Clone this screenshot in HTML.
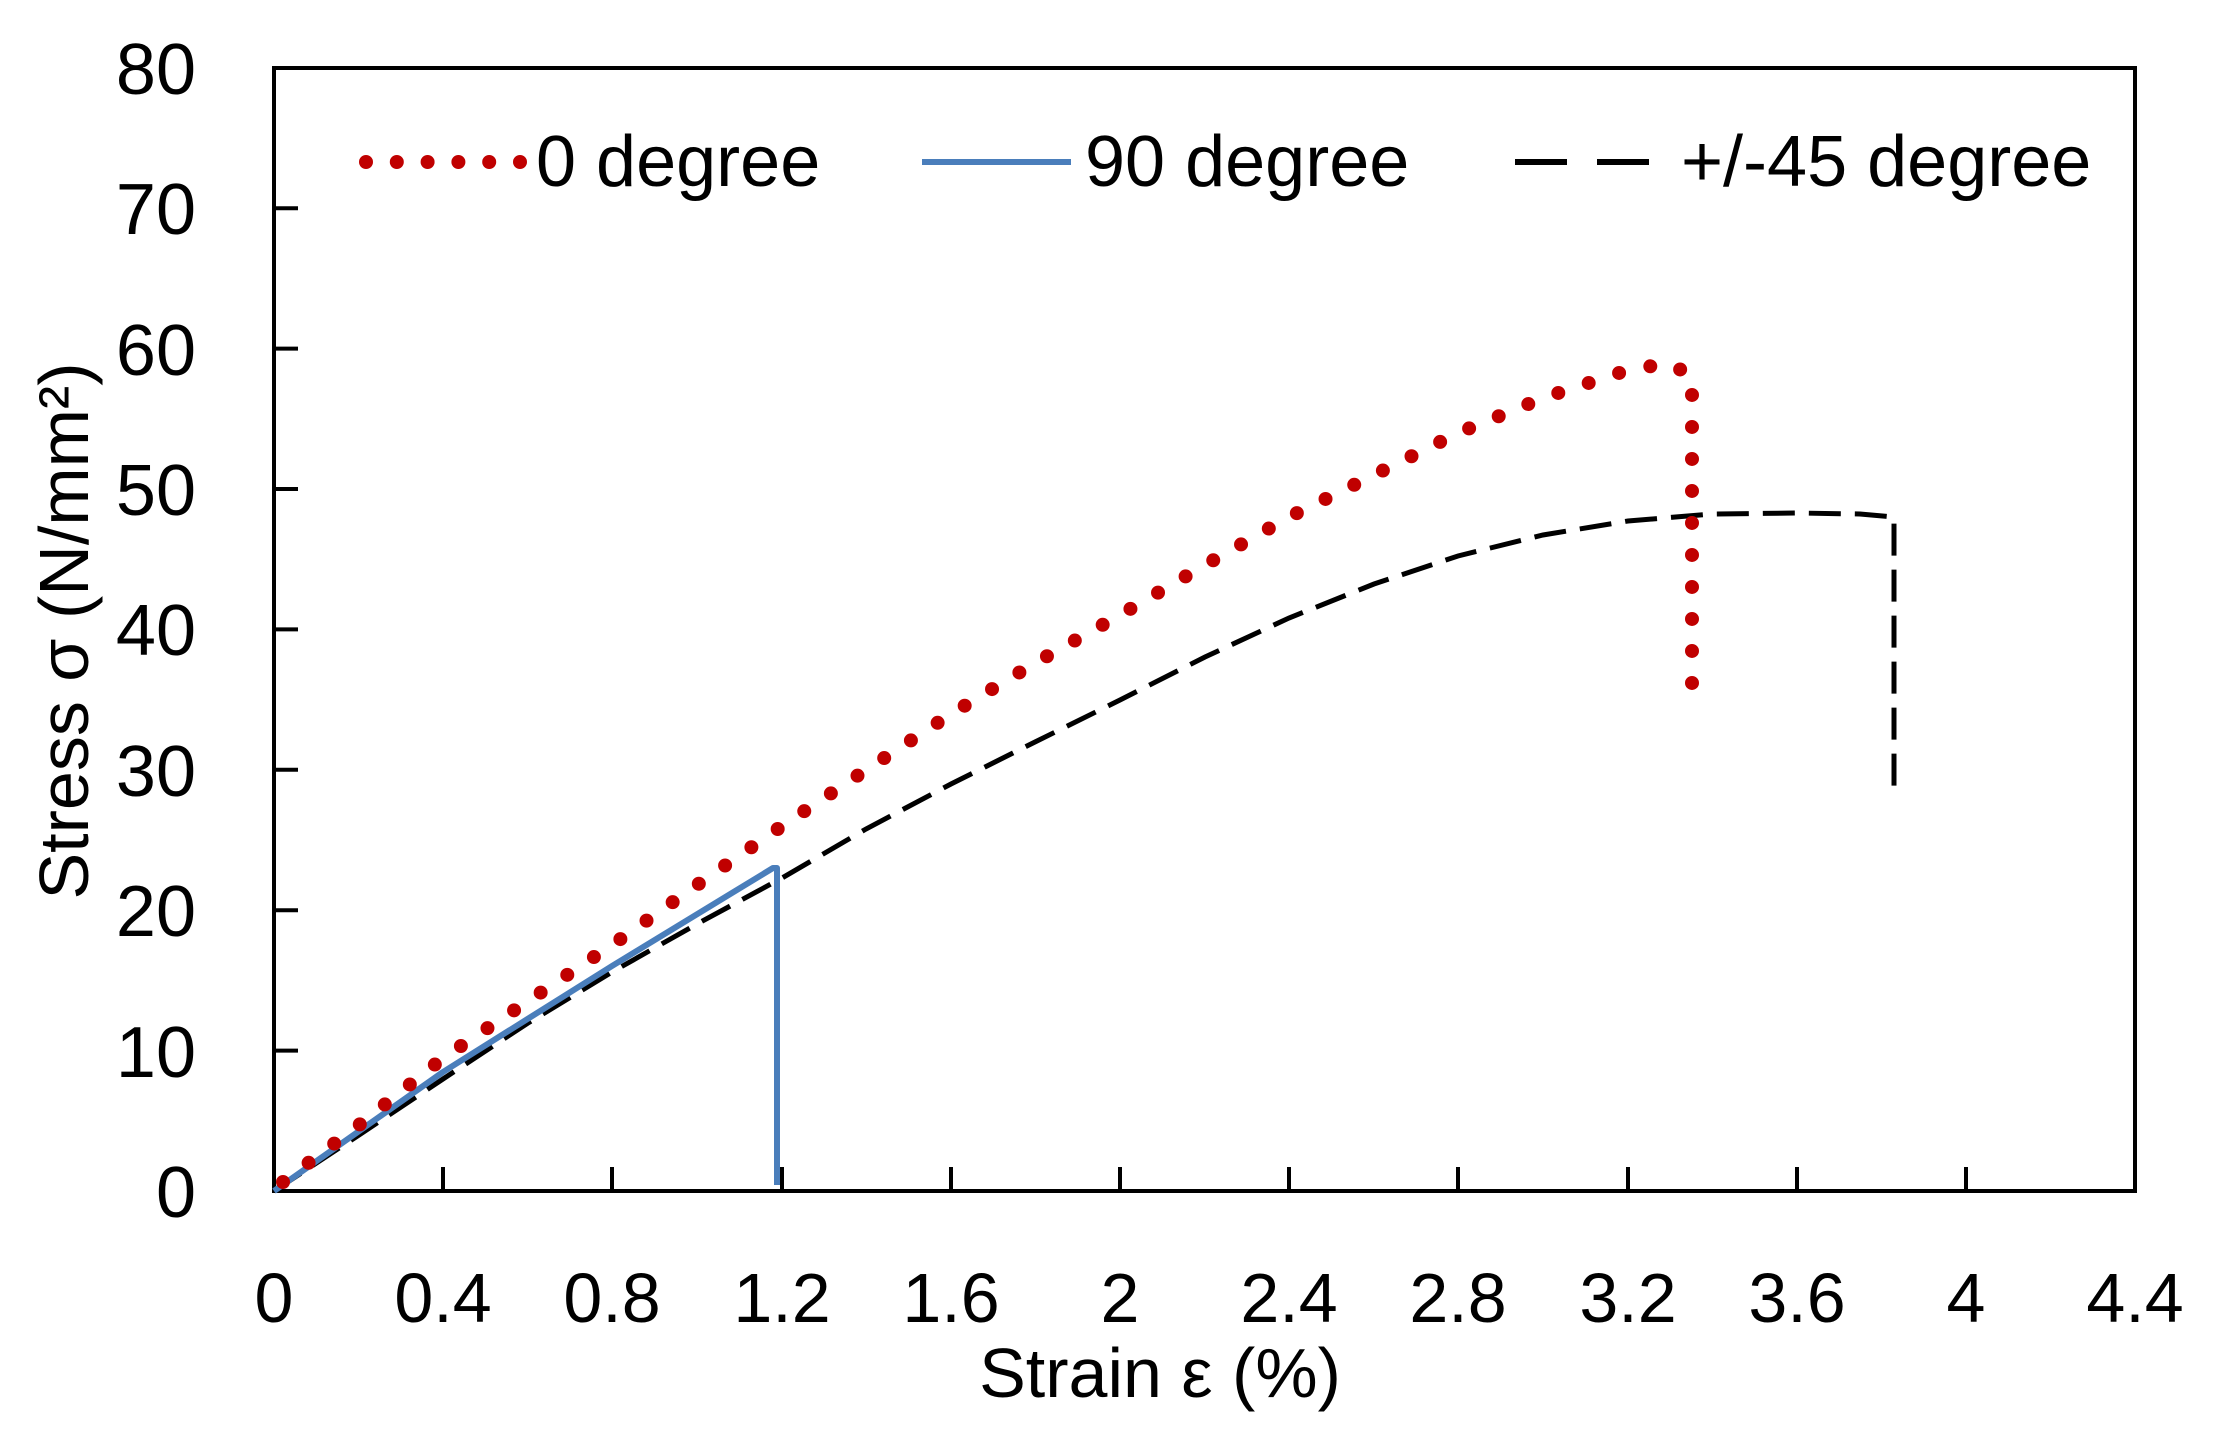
<!DOCTYPE html>
<html><head><meta charset="utf-8"><style>
html,body{margin:0;padding:0;background:#fff;}
svg{display:block}
text{font-family:"Liberation Sans",sans-serif;fill:#000}
</style></head><body>
<svg width="2213" height="1432" viewBox="0 0 2213 1432" xmlns="http://www.w3.org/2000/svg">
<rect width="2213" height="1432" fill="#fff"/>
<rect x="274" y="68" width="1861" height="1123" fill="none" stroke="#000" stroke-width="4"/>
<g stroke="#000" stroke-width="4">
<path d="M274 1050.6h24M274 910.2h24M274 769.8h24M274 629.4h24M274 489h24M274 348.6h24M274 208.2h24"/>
<path d="M443 1191v-24M612 1191v-24M782 1191v-24M951 1191v-24M1120 1191v-24M1289 1191v-24M1458 1191v-24M1628 1191v-24M1797 1191v-24M1966 1191v-24"/>
</g>
<g font-size="72" text-anchor="end">
<text x="196" y="1217">0</text>
<text x="196" y="1077">10</text>
<text x="196" y="936">20</text>
<text x="196" y="796">30</text>
<text x="196" y="655">40</text>
<text x="196" y="515">50</text>
<text x="196" y="375">60</text>
<text x="196" y="234">70</text>
<text x="196" y="94">80</text>
</g>
<g font-size="70" text-anchor="middle">
<text x="274" y="1322">0</text>
<text x="443" y="1322">0.4</text>
<text x="612" y="1322">0.8</text>
<text x="782" y="1322">1.2</text>
<text x="951" y="1322">1.6</text>
<text x="1120" y="1322">2</text>
<text x="1289" y="1322">2.4</text>
<text x="1458" y="1322">2.8</text>
<text x="1628" y="1322">3.2</text>
<text x="1797" y="1322">3.6</text>
<text x="1966" y="1322">4</text>
<text x="2135" y="1322">4.4</text>
</g>
<text x="1160" y="1397" font-size="70" text-anchor="middle">Strain ε (%)</text>
<text transform="translate(88,631) rotate(-90)" font-size="70" text-anchor="middle">Stress σ (N/mm²)</text>
<polyline fill="none" stroke="#000" stroke-width="5" stroke-dasharray="32 14" points="274,1191 359,1135 443,1079 528,1023 612,972 697,924 782,878 866,829 951,784 1035,742 1120,700 1205,657 1289,618 1374,584 1458,556 1543,535 1628,521 1712,514 1797,513 1860,514 1894,517 1894,798"/>
<polyline fill="none" stroke="#4a7ebb" stroke-width="6" stroke-linejoin="round" points="274,1191 443,1072 612,966 773,868 777,868 777,1185"/>
<polyline fill="none" stroke="#c00000" stroke-width="14" stroke-linecap="round" stroke-dasharray="0 32" points="283,1182 359,1125 443,1058 528,1001 612,945 697,885 782,826 866,770 951,714 1035,663 1120,615 1205,565 1289,517 1374,475 1458,433 1543,398 1628,370 1670,363 1692,377 1692,690"/>
<line x1="366" y1="162" x2="520" y2="162" stroke="#c00000" stroke-width="14" stroke-linecap="round" stroke-dasharray="0 30.8"/>
<text x="536" y="186" font-size="72">0 degree</text>
<line x1="922" y1="162" x2="1071" y2="162" stroke="#4a7ebb" stroke-width="6"/>
<text x="1085" y="186" font-size="72">90 degree</text>
<line x1="1515" y1="162" x2="1650" y2="162" stroke="#000" stroke-width="6" stroke-dasharray="52 30"/>
<text x="1681" y="186" font-size="72">+/-45 degree</text>
</svg>
</body></html>
